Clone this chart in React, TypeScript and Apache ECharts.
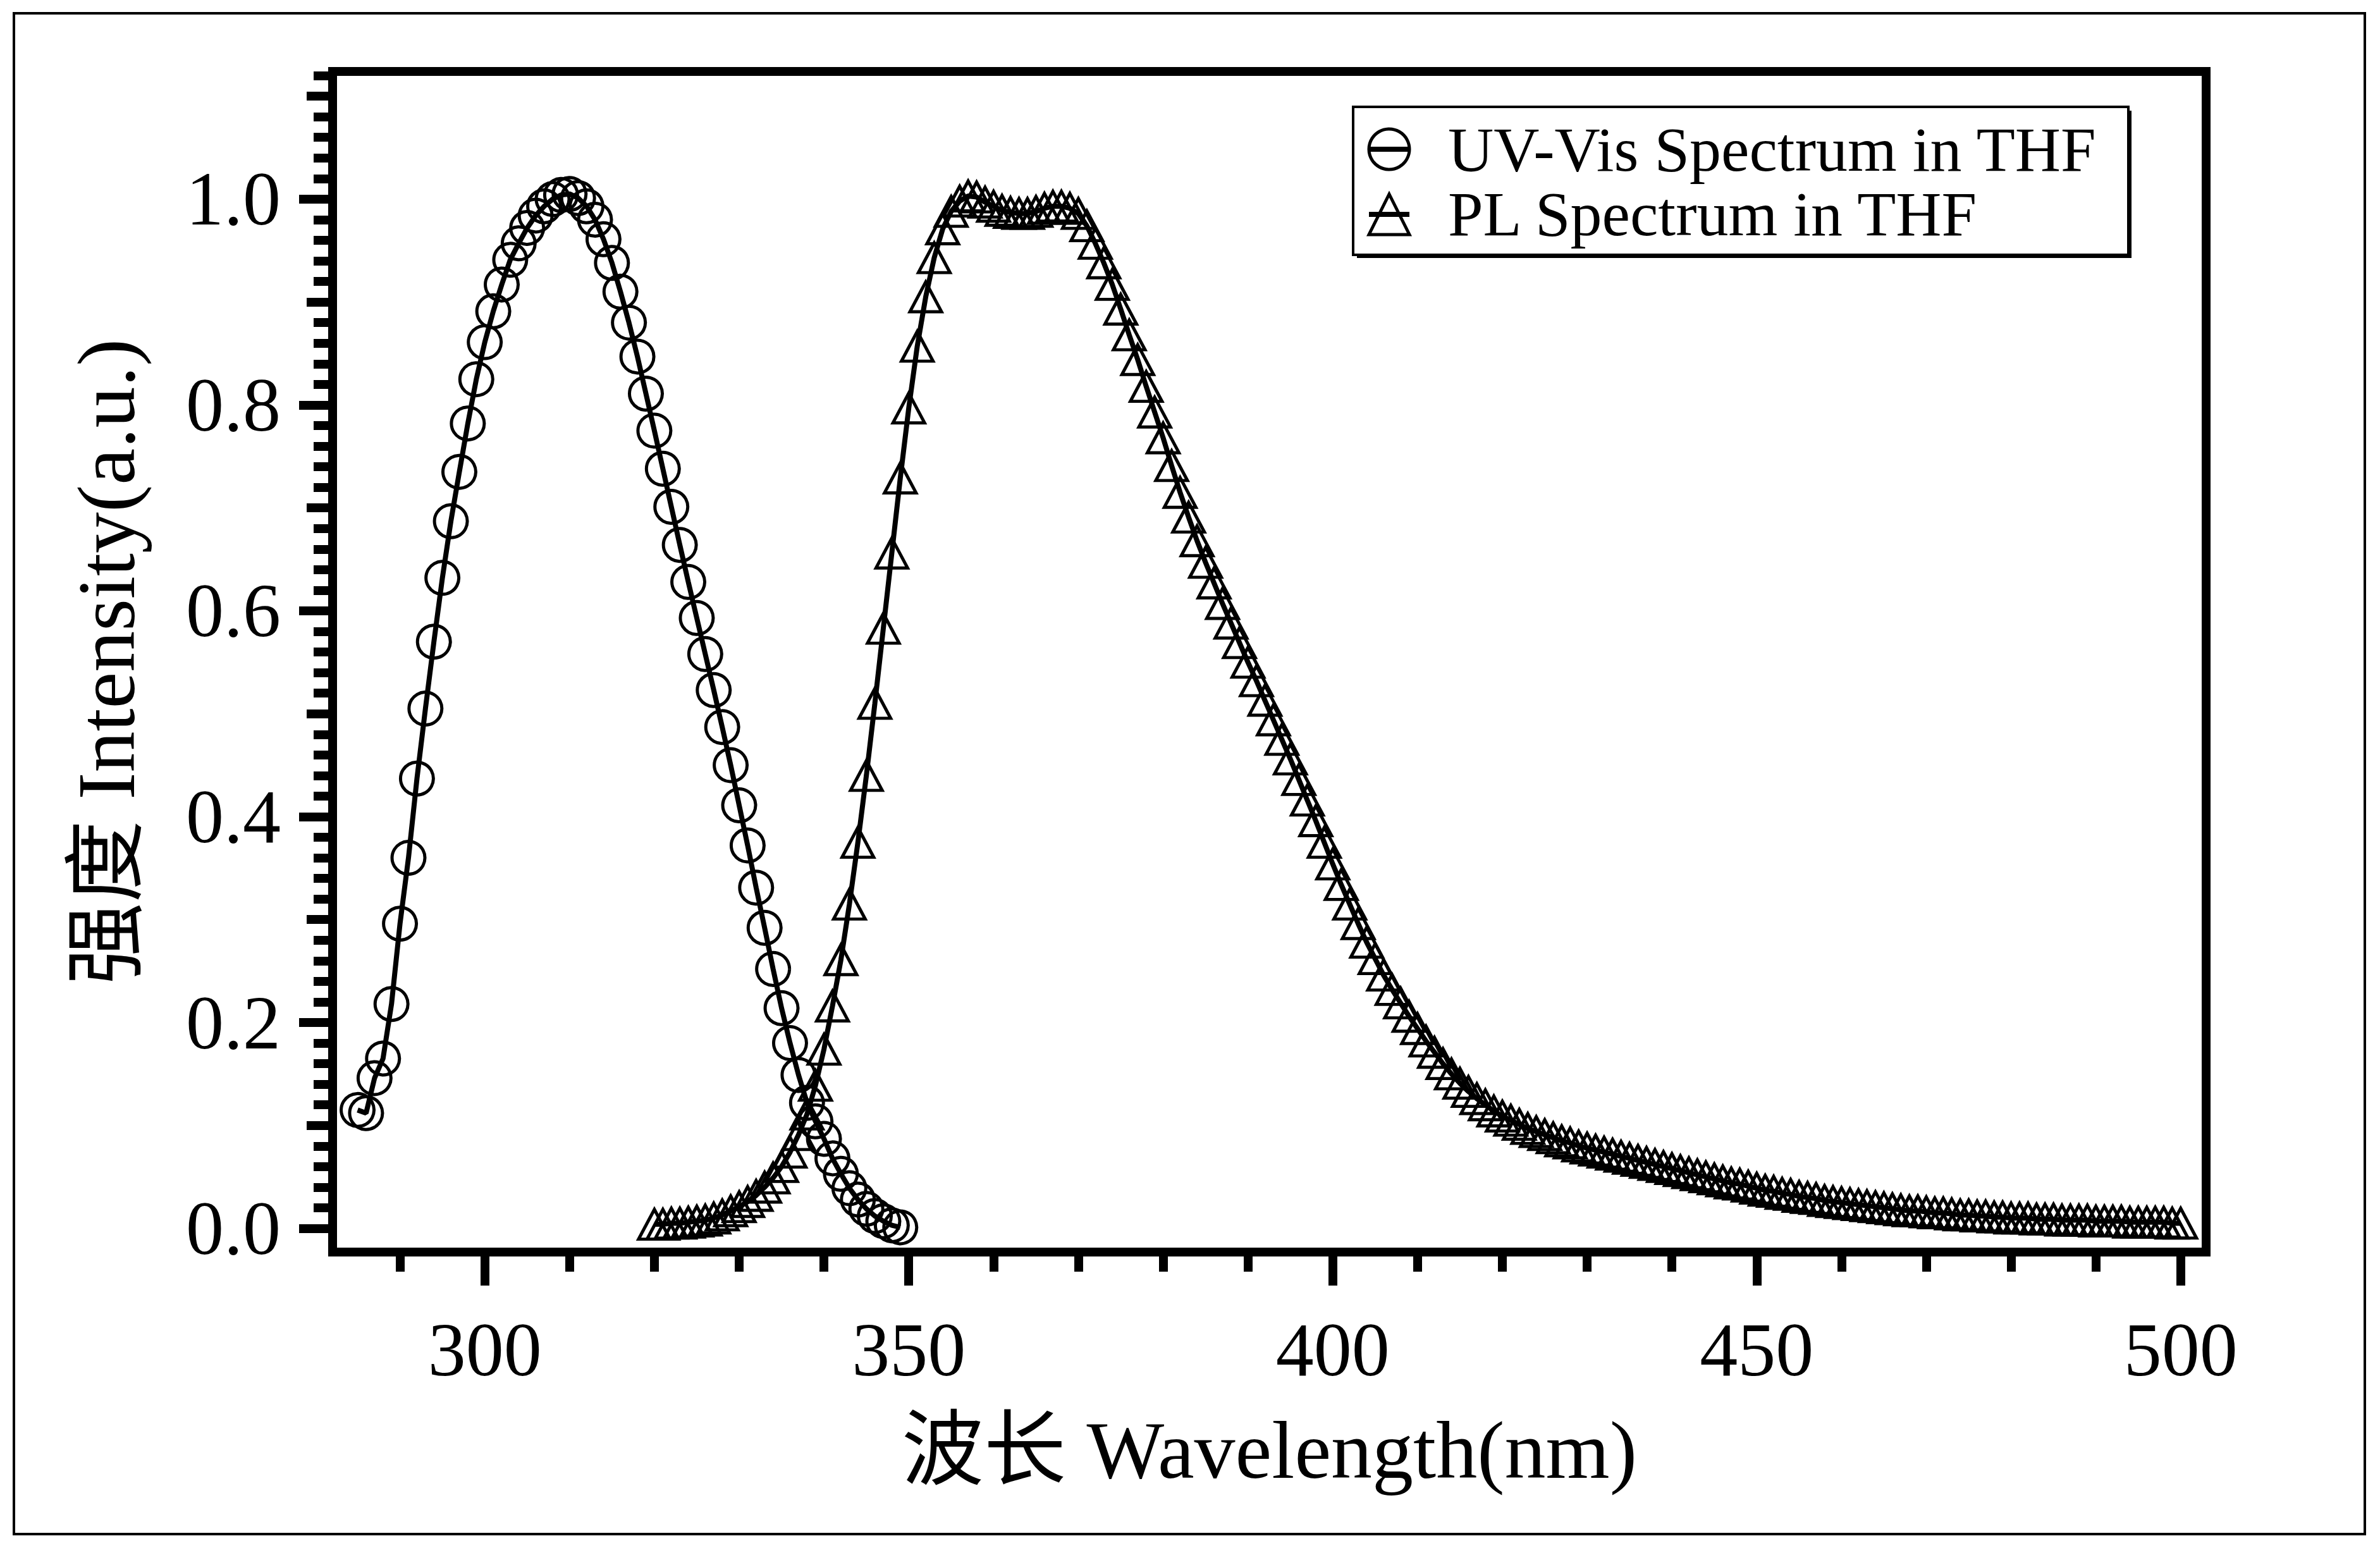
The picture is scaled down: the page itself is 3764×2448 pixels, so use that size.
import { useEffect, useRef } from "react";
import * as echarts from "echarts";

// UV-Vis absorption, sampled every 1 nm from 285 nm
const UV_START = 285;
const uvIntensity = [
  0.115, 0.112, 0.146, 0.165, 0.218, 0.296, 0.36, 0.437, 0.505, 0.57,
  0.632, 0.687, 0.735, 0.782, 0.825, 0.861, 0.891, 0.917, 0.941, 0.957,
  0.972, 0.984, 0.993, 1.0, 1.004, 1.005, 1.001, 0.993, 0.98, 0.961,
  0.938, 0.91, 0.88, 0.847, 0.811, 0.775, 0.738, 0.701, 0.664, 0.628,
  0.593, 0.558, 0.523, 0.487, 0.45, 0.411, 0.372, 0.331, 0.292, 0.252,
  0.214, 0.18, 0.149, 0.122, 0.104, 0.087, 0.068, 0.053, 0.039, 0.028,
  0.019, 0.012, 0.007, 0.003, 0.001,
];

// Photoluminescence emission, sampled every 1 nm from 320 nm
const PL_START = 320;
const plIntensity = [
  0.004, 0.004, 0.005, 0.005, 0.006, 0.007, 0.008, 0.01, 0.013, 0.017,
  0.021, 0.026, 0.032, 0.04, 0.049, 0.06, 0.074, 0.091, 0.111, 0.139,
  0.174, 0.216, 0.261, 0.315, 0.375, 0.44, 0.51, 0.583, 0.656, 0.729,
  0.797, 0.857, 0.905, 0.943, 0.971, 0.988, 0.998, 1.003, 1.002, 0.997,
  0.993, 0.989, 0.987, 0.986, 0.986, 0.988, 0.991, 0.993, 0.993, 0.991,
  0.986, 0.974, 0.957, 0.938, 0.917, 0.893, 0.868, 0.844, 0.818, 0.793,
  0.768, 0.741, 0.715, 0.691, 0.668, 0.647, 0.627, 0.607, 0.588, 0.569,
  0.55, 0.532, 0.513, 0.494, 0.475, 0.456, 0.436, 0.416, 0.396, 0.375,
  0.354, 0.334, 0.315, 0.296, 0.278, 0.262, 0.246, 0.232, 0.219, 0.206,
  0.194, 0.182, 0.171, 0.16, 0.15, 0.141, 0.133, 0.126, 0.12, 0.114,
  0.109, 0.105, 0.101, 0.097, 0.094, 0.091, 0.088, 0.085, 0.083, 0.08,
  0.078, 0.076, 0.074, 0.072, 0.07, 0.068, 0.066, 0.064, 0.062, 0.06,
  0.058, 0.056, 0.054, 0.052, 0.05, 0.048, 0.046, 0.044, 0.043, 0.041,
  0.039, 0.037, 0.036, 0.034, 0.033, 0.031, 0.03, 0.029, 0.027, 0.026,
  0.025, 0.024, 0.023, 0.022, 0.021, 0.02, 0.019, 0.018, 0.017, 0.017,
  0.016, 0.015, 0.015, 0.014, 0.013, 0.013, 0.012, 0.012, 0.011, 0.011,
  0.01, 0.01, 0.01, 0.009, 0.009, 0.009, 0.008, 0.008, 0.008, 0.008,
  0.007, 0.007, 0.007, 0.007, 0.006, 0.006, 0.006, 0.006, 0.006, 0.005,
  0.005,
];

const seriesNames = ["UV-Vis Spectrum in THF", "PL Spectrum in THF"];
const xTitle = "波长 Wavelength(nm)";
const yTitle = "强度 Intensity(a.u.)";

// Axis tick positions
const xMajorTicks = [300, 350, 400, 450, 500];
const xMinorTicks = [290, 310, 320, 330, 340, 360, 370, 380, 390, 410, 420, 430, 440, 460, 470, 480, 490];
const yMajorTicks = [0, 0.2, 0.4, 0.6, 0.8, 1.0];
const yMidTicks = [0.1, 0.3, 0.5, 0.7, 0.9, 1.1];
const yMinorTicks = Array.from({ length: 56 }, (_, i) => Math.round((i + 1) * 2) / 100);

const X_MIN = 282.05;
const X_MAX = 503;
const Y_MIN = -0.023;
const Y_MAX = 1.124;

const FONT = "'Liberation Serif', 'Noto Sans CJK SC', serif";
const INK = "#000";

function toPoints(start: number, values: number[]) {
  return values.map((v, i) => [start + i, v]);
}

// An extra axis that only contributes a set of ticks of a given length
function tickAxis(kind: "x" | "y", values: number[], length: number) {
  return {
    type: "value",
    position: kind === "x" ? "bottom" : "left",
    min: kind === "x" ? X_MIN : Y_MIN,
    max: kind === "x" ? X_MAX : Y_MAX,
    axisLine: { show: false, onZero: false },
    axisTick: {
      show: true,
      inside: false,
      customValues: values,
      length,
      lineStyle: { color: INK, width: 14 },
    },
    axisLabel: { show: false },
    splitLine: { show: false },
  };
}

export default function App() {
  const ref = useRef<HTMLDivElement>(null);

  useEffect(() => {
    if (!ref.current) return;
    const chart = echarts.init(ref.current, null, { renderer: "svg" });

    const option = {
      animation: false,
      backgroundColor: "#fff",
      textStyle: { fontFamily: FONT, color: INK },
      grid: {
        left: 526,
        top: 113,
        right: 275,
        bottom: 468,
        show: true,
        borderColor: INK,
        borderWidth: 14,
        backgroundColor: "transparent",
      },
      xAxis: [
        {
          type: "value",
          position: "bottom",
          min: X_MIN,
          max: X_MAX,
          name: xTitle,
          nameLocation: "middle",
          nameGap: 248,
          nameTextStyle: { fontFamily: FONT, fontSize: 130, color: INK },
          axisLine: { show: true, onZero: false, lineStyle: { color: INK, width: 14 } },
          axisTick: {
            show: true,
            inside: false,
            customValues: xMajorTicks,
            length: 53,
            lineStyle: { color: INK, width: 14 },
          },
          axisLabel: {
            customValues: xMajorTicks,
            margin: 94,
            fontFamily: FONT,
            fontSize: 120,
            color: INK,
            formatter: (v: number) => String(Math.round(v)),
          },
          splitLine: { show: false },
        },
        tickAxis("x", xMinorTicks, 31),
      ],
      yAxis: [
        {
          type: "value",
          position: "left",
          min: Y_MIN,
          max: Y_MAX,
          name: yTitle,
          nameLocation: "middle",
          nameGap: 293,
          nameTextStyle: { fontFamily: FONT, fontSize: 130, color: INK },
          axisLine: { show: true, onZero: false, lineStyle: { color: INK, width: 14 } },
          axisTick: {
            show: true,
            inside: false,
            customValues: yMajorTicks,
            length: 53,
            lineStyle: { color: INK, width: 14 },
          },
          axisLabel: {
            customValues: yMajorTicks,
            margin: 82,
            fontFamily: FONT,
            fontSize: 120,
            color: INK,
            formatter: (v: number) => v.toFixed(1),
          },
          splitLine: { show: false },
        },
        tickAxis("y", yMidTicks, 41),
        tickAxis("y", yMinorTicks, 30),
      ],
      legend: {
        orient: "vertical",
        left: 2161,
        top: 186,
        padding: 0,
        itemWidth: 64,
        itemHeight: 80,
        itemGap: 3,
        selectedMode: false,
        data: seriesNames,
        textStyle: {
          fontFamily: FONT,
          fontSize: 100,
          color: INK,
          padding: [0, 0, 0, 56],
        },
        itemStyle: { color: "rgba(0,0,0,0)", borderColor: INK, borderWidth: 5 },
        lineStyle: { color: INK, width: 8 },
      },
      graphic: [
        {
          type: "rect",
          shape: { x: 22, y: 21, width: 3718, height: 2405 },
          style: { fill: "none", stroke: INK, lineWidth: 4 },
          silent: true,
        },
        {
          type: "rect",
          shape: { x: 2140, y: 169, width: 1226, height: 234 },
          style: { fill: "none", stroke: INK, lineWidth: 4 },
          silent: true,
        },
        {
          type: "polyline",
          shape: { points: [[2146, 406], [3369, 406], [3369, 175]] },
          style: { fill: "none", stroke: INK, lineWidth: 4 },
          silent: true,
        },
      ],
      series: [
        {
          name: seriesNames[0],
          type: "line",
          xAxisIndex: 0,
          yAxisIndex: 0,
          data: toPoints(UV_START, uvIntensity),
          symbol: "circle",
          symbolSize: 52,
          showSymbol: true,
          showAllSymbol: true,
          lineStyle: { color: INK, width: 8 },
          itemStyle: { color: "rgba(0,0,0,0)", borderColor: INK, borderWidth: 5 },
          emphasis: { disabled: true },
        },
        {
          name: seriesNames[1],
          type: "line",
          xAxisIndex: 0,
          yAxisIndex: 0,
          data: toPoints(PL_START, plIntensity),
          symbol: "triangle",
          symbolSize: [50, 47],
          showSymbol: true,
          showAllSymbol: true,
          lineStyle: { color: INK, width: 8 },
          itemStyle: { color: "rgba(0,0,0,0)", borderColor: INK, borderWidth: 5 },
          emphasis: { disabled: true },
        },
      ],
    };

    chart.setOption(option as any);
    return () => chart.dispose();
  }, []);

  return (
    <div
      ref={ref}
      style={{
        position: "absolute",
        left: 0,
        top: 0,
        width: 3764,
        height: 2448,
        background: "#fff",
      }}
    />
  );
}
